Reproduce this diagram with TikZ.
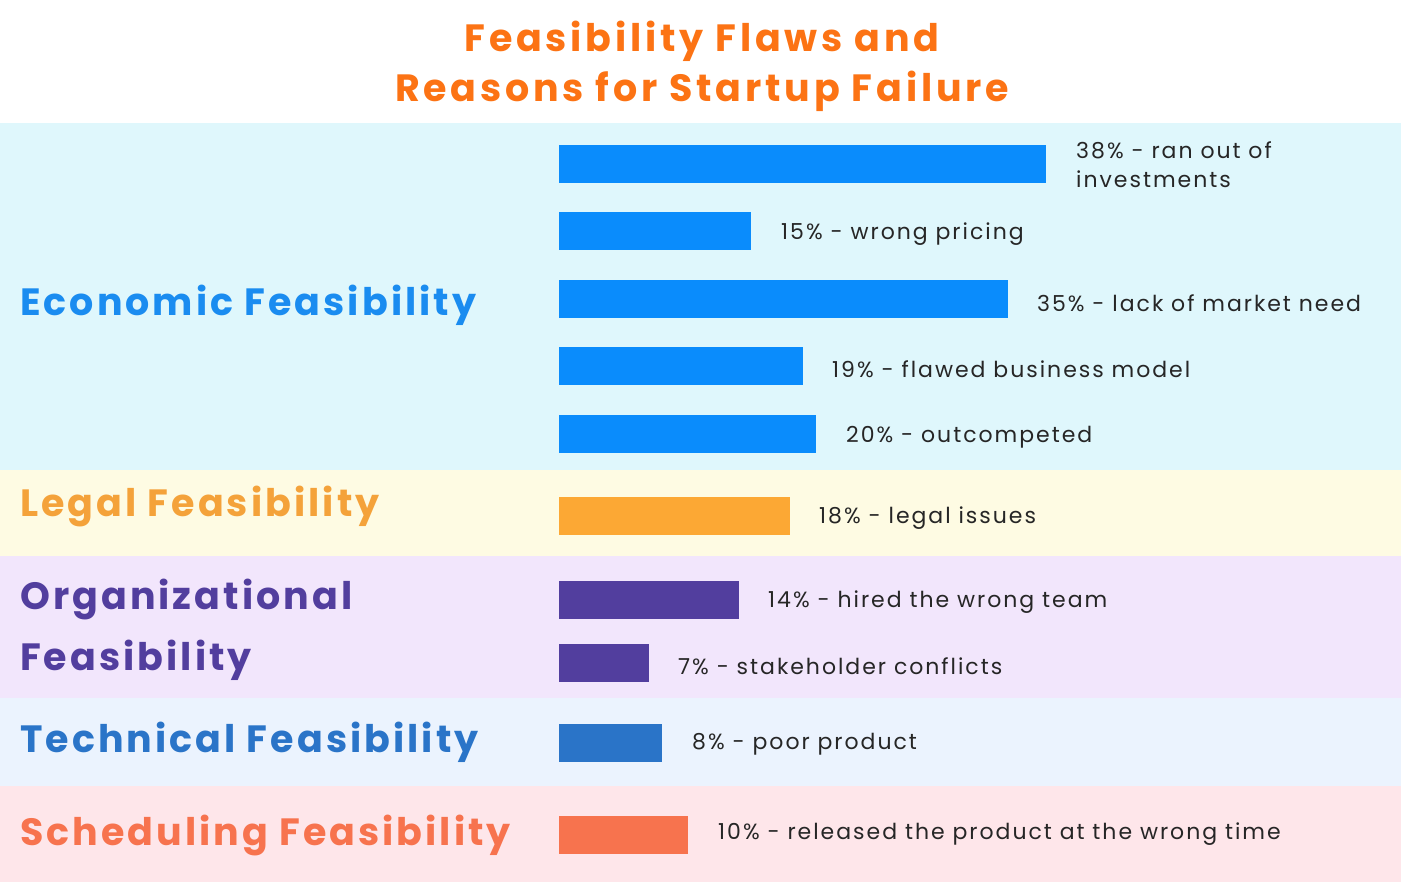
\documentclass[tikz,border=0pt]{standalone}
\usepackage{fontspec}
\setmainfont{Poppins}
\begin{document}
\begin{tikzpicture}[x=1pt,y=-1pt,
  lbl/.style={anchor=west,inner sep=0pt,font=\fontsize{22}{29}\addfontfeatures{LetterSpace=9}\selectfont,text=black!85},
  head/.style={anchor=west,inner sep=0pt,font=\fontsize{38}{61}\bfseries\addfontfeatures{LetterSpace=8}\selectfont}]
\definecolor{ttl}{HTML}{FC7314}
\definecolor{eco}{HTML}{1A8CF0}
\definecolor{ecobar}{HTML}{0A8CFC}
\definecolor{leg}{HTML}{F4A23A}
\definecolor{legbar}{HTML}{FCA834}
\definecolor{org}{HTML}{523E9E}
\definecolor{tec}{HTML}{2A74C8}
\definecolor{sch}{HTML}{F7734E}
\definecolor{b1}{HTML}{DFF7FC}
\definecolor{b2}{HTML}{FEFBE3}
\definecolor{b3}{HTML}{F2E6FC}
\definecolor{b4}{HTML}{EBF3FE}
\definecolor{b5}{HTML}{FEE6EA}
\useasboundingbox (0,0) rectangle (1401,882);
\fill[white] (0,0) rectangle (1401,123);
\fill[b1] (0,123) rectangle (1401,470);
\fill[b2] (0,470) rectangle (1401,556);
\fill[b3] (0,556) rectangle (1401,698);
\fill[b4] (0,698) rectangle (1401,786);
\fill[b5] (0,786) rectangle (1401,882);
\node[inner sep=0pt,font=\fontsize{38}{50}\bfseries\addfontfeatures{LetterSpace=10}\selectfont,text=ttl,align=center] (title) at (702,66) {Feasibility Flaws and\\Reasons for Startup Failure};
\node[head,text=eco] (h1) at (20,305) {Economic Feasibility};
\node[head,text=leg] (h2) at (20,507) {Legal Feasibility};
\node[head,text=org,align=left] (h3) at (20,630) {Organizational\\Feasibility};
\node[head,text=tec] (h4) at (20,742) {Technical Feasibility};
\node[head,text=sch] (h5) at (20,836) {Scheduling Feasibility};
\fill[ecobar] (559,145) rectangle (1046,183);
\node[lbl,align=left] (l1) at (1076,165) {38\% - ran out of\\investments};
\fill[ecobar] (559,212) rectangle (751,250);
\node[lbl] (l2) at (781,234) {15\% - wrong pricing};
\fill[ecobar] (559,280) rectangle (1008,318);
\node[lbl] (l3) at (1037,303) {35\% - lack of market need};
\fill[ecobar] (559,347) rectangle (803,385);
\node[lbl] (l4) at (832,369) {19\% - flawed business model};
\fill[ecobar] (559,415) rectangle (816,453);
\node[lbl] (l5) at (846,437) {20\% - outcompeted};
\fill[legbar] (559,497) rectangle (790,535);
\node[lbl] (l6) at (819,518) {18\% - legal issues};
\fill[org] (559,581) rectangle (739,619);
\node[lbl] (l7) at (768,602) {14\% - hired the wrong team};
\fill[org] (559,644) rectangle (649,682);
\node[lbl] (l8) at (678,666) {7\% - stakeholder conflicts};
\fill[tec] (559,724) rectangle (662,762);
\node[lbl] (l9) at (692,744) {8\% - poor product};
\fill[sch] (559,816) rectangle (688,854);
\node[lbl] (l10) at (718,834) {10\% - released the product at the wrong time};
\end{tikzpicture}
\end{document}
